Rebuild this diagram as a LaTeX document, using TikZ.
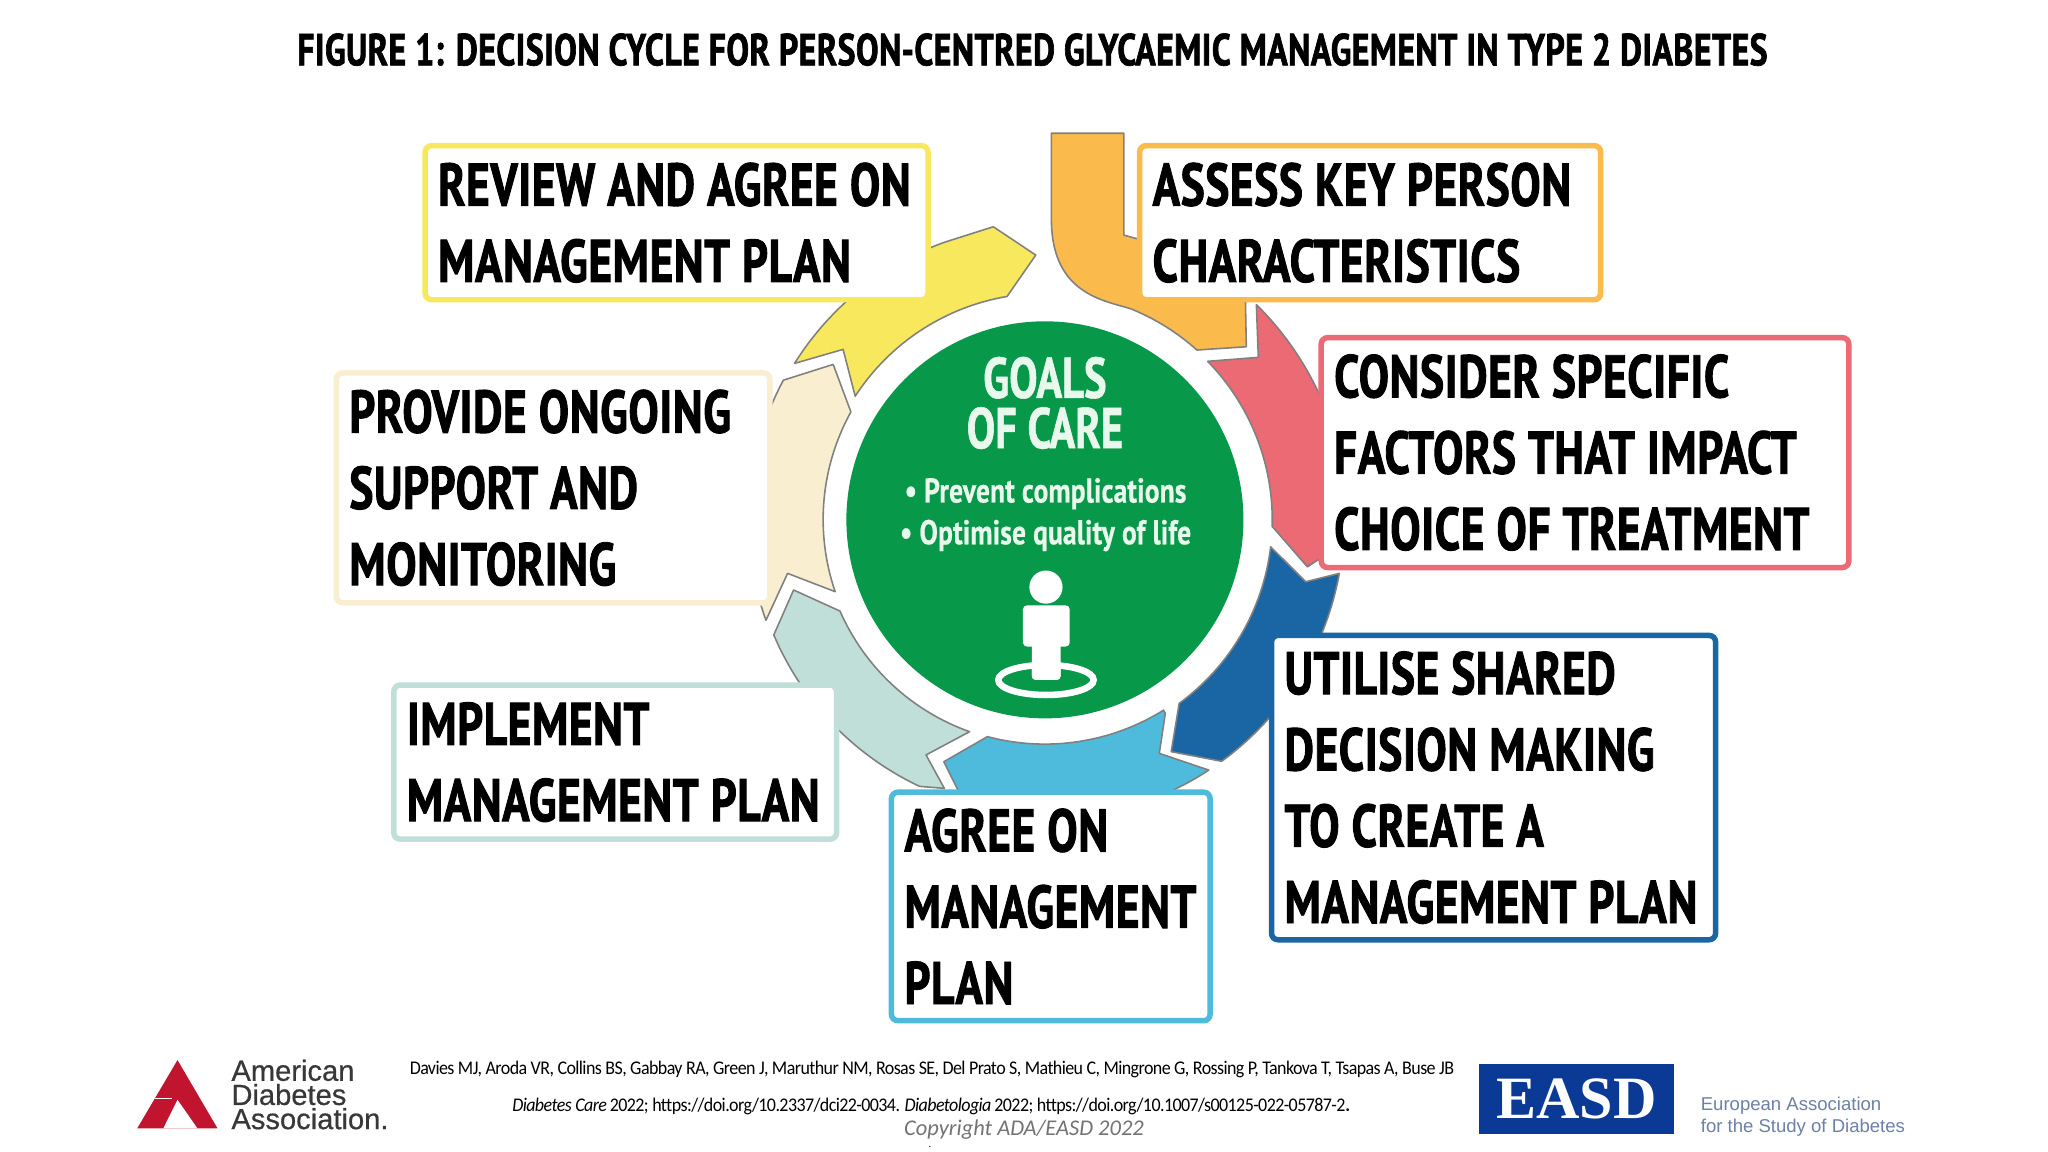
\documentclass[tikz,border=0pt]{standalone}
\usepackage{fontspec}
\setmainfont{Liberation Sans}
\newfontfamily\dinf{PT Sans}[FakeStretch=0.755,LetterSpace=1,FakeBold=1.5]
\newfontfamily\dinb{PT Sans}[FakeStretch=0.74,FakeBold=1.0]
\newfontfamily\dinc{PT Sans}[FakeStretch=0.8,LetterSpace=0.5,FakeBold=0.6]
\newfontfamily\carl{Carlito}[FakeStretch=0.93,LetterSpace=-3]
\newfontfamily\copyf{Carlito}
\newfontfamily\serb{Liberation Serif}
\newfontfamily\adaf{Liberation Sans}[FakeBold=0.5]
\definecolor{cyel}{HTML}{F8E85E}
\definecolor{cora}{HTML}{FBBA4C}
\definecolor{cred}{HTML}{EC6A74}
\definecolor{cblu}{HTML}{1A66A4}
\definecolor{ccya}{HTML}{4EBBDD}
\definecolor{cmin}{HTML}{C0DFD9}
\definecolor{ccre}{HTML}{F9EECF}
\definecolor{cgrn}{HTML}{08984A}
\definecolor{ctxt}{HTML}{E9F8EC}
\definecolor{clog}{HTML}{C0142F}
\definecolor{ceas}{HTML}{0B3A96}
\definecolor{ceat}{HTML}{6C80A8}
\tikzset{
  arrowband/.style={draw=black!50,line width=1.2pt,line join=round},
  cbox/.style={rectangle,rounded corners=5pt,line width=4.2pt,fill=white,anchor=north west,inner xsep=10pt,inner ysep=0pt,outer sep=0pt,align=flush left,font=\dinf\bfseries\fontsize{46}{58.4}\selectfont},
  bullet/.style={text=ctxt,inner sep=0pt,font=\dinc\bfseries\fontsize{26.3}{27}\selectfont},
  footer/.style={inner sep=0pt,text=black,font=\carl\fontsize{14.8}{16}\selectfont}
}
\begin{document}
\begin{tikzpicture}[x=1pt,y=1pt,yscale=-1]
\useasboundingbox (0,0) rectangle (1568,882);
\fill[white] (0,0) rectangle (1568,882);
\coordinate (c) at (800,398);
% title
\node[inner sep=0pt,font=\dinf\bfseries\fontsize{34.3}{35}\selectfont] (title) at (790.5,38) {FIGURE 1: DECISION CYCLE FOR PERSON-CENTRED GLYCAEMIC MANAGEMENT IN TYPE 2 DIABETES};
% cycle arrows
\draw[arrowband,fill=cyel] ([shift={(212:226)}]c) arc[start angle=212,end angle=250,radius=226] -- (760.5,173.6) -- (793,195.3) -- (771,227) arc[start angle=260.4,end angle=213,radius=173] -- (645.5,267.5) -- cycle;
\draw[arrowband,fill=cora] (805,102) -- (860.4,102) -- (860.4,180) -- (869.5,182.5) -- (953,200) -- (954.2,265.5) -- (916.4,268) arc[start angle=311.8,end angle=292,radius=174] .. controls (845,230) and (806,225) .. (805,170) -- cycle;
\draw[arrowband,fill=cred] ([shift={(314.5:231)}]c) arc[start angle=314.5,end angle=365,radius=231] -- (1010,428) -- (1001,434) -- (974,403) arc[start angle=361.6,end angle=315.7,radius=174] -- (963.4,273.6) -- cycle;
\draw[arrowband,fill=cblu] ([shift={(6.8:174)}]c) -- (999.7,445.4) -- (1025.4,439) arc[start angle=10.3,end angle=53.8,radius=229] -- (896.7,575.5) -- (902.8,538.5) arc[start angle=53.8,end angle=6.8,radius=174] -- cycle;
\draw[arrowband,fill=ccya] ([shift={(58.1:174.5)}]c) -- (887.6,576.8) -- (925.5,589.6) arc[start angle=56.8,end angle=105,radius=229] -- (734.7,607.5) -- (722.6,583.2) -- (756,564) arc[start angle=104.8,end angle=58.1,radius=172] -- cycle;
\draw[arrowband,fill=cmin] ([shift={(157:225.5)}]c) arc[start angle=157,end angle=115.2,radius=225.5] -- (723,603.6) -- (709,578) -- (742.3,560.2) arc[start angle=109.6,end angle=156.3,radius=171] -- (607.6,451.7) -- cycle;
\draw[arrowband,fill=ccre] ([shift={(208.1:227)}]c) arc[start angle=208.1,end angle=160.2,radius=227] -- (603,439) -- (639.4,453) arc[start angle=161.1,end angle=208.9,radius=170.5] -- (637.9,279) -- cycle;
% centre disc
\node[circle,fill=cgrn,minimum size=304pt,inner sep=0pt] (disc) at (c) {};
\node[text=ctxt,inner sep=0pt,align=center,font=\dinb\bfseries\fontsize{44}{38.5}\selectfont] (goals) at (800,308.5) {GOALS\\OF CARE};
\node[bullet] (b1) at (800.5,378) {\textbullet\ Prevent complications};
\node[bullet] (b2) at (800.5,410) {\textbullet\ Optimise quality of life};
% person
\fill[white] (800.8,449.5) circle[radius=12.7];
\fill[white,rounded corners=3pt] (783.2,463.5) rectangle (819,495);
\fill[white,rounded corners=3pt] (790,490) rectangle (812,520.6);
\draw[white,line width=5pt] (800.8,520.6) ellipse[x radius=36.5,y radius=11.5];
\fill[white,rounded corners=3pt] (790,505) rectangle (812,520.6);
% boxes
\node[cbox,draw=cyel,minimum width=385pt,minimum height=118pt,text width=365pt] (review) at (325.5,111.5) {REVIEW AND AGREE ON\\MANAGEMENT PLAN};
\node[cbox,draw=cora,minimum width=353pt,minimum height=118pt,text width=333pt] (assess) at (872.5,111.5) {ASSESS KEY PERSON\\CHARACTERISTICS};
\node[cbox,draw=cred,minimum width=404pt,minimum height=176pt,text width=384pt] (consider) at (1011.5,258.5) {CONSIDER SPECIFIC\\FACTORS THAT IMPACT\\CHOICE OF TREATMENT};
\node[cbox,draw=cblu,minimum width=340pt,minimum height=233pt,text width=320pt] (utilise) at (973.5,486.5) {UTILISE SHARED\\DECISION MAKING\\TO CREATE A\\MANAGEMENT PLAN};
\node[cbox,draw=ccya,minimum width=244pt,minimum height=175pt,text width=224pt] (agree) at (682.5,606.5) {AGREE ON\\MANAGEMENT\\PLAN};
\node[cbox,draw=cmin,minimum width=339pt,minimum height=118pt,text width=319pt] (implement) at (301.5,524.5) {IMPLEMENT\\MANAGEMENT PLAN};
\node[cbox,draw=ccre,minimum width=332pt,minimum height=176pt,text width=312pt] (provide) at (257.5,285.5) {PROVIDE ONGOING\\SUPPORT AND\\MONITORING};
% ADA logo
\fill[clog] (135.9,811.6) -- (166.6,864) -- (105,864) -- cycle;
\fill[white] (125,864) -- (135.9,842) -- (151.2,864) -- cycle;
\draw[white,line width=.8pt] (119,841) -- (132,841);
\node[inner sep=0pt,anchor=west,align=left,text=black!78,font=\adaf\fontsize{22.3}{18.5}\selectfont] (ada) at (177,838) {American\\Diabetes\\Association.};
% references
\node[footer] (ref1) at (713.5,819) {Davies MJ, Aroda VR, Collins BS, Gabbay RA, Green J, Maruthur NM, Rosas SE, Del Prato S, Mathieu C, Mingrone G, Rossing P, Tankova T, Tsapas A, Buse JB};
\node[footer] (ref2) at (713,847) {\textit{Diabetes Care} 2022; https://doi.org/10.2337/dci22-0034. \textit{Diabetologia} 2022; https://doi.org/10.1007/s00125-022-05787-2{\bfseries .}};
\node[inner sep=0pt,text=black!55,font=\copyf\itshape\fontsize{17.2}{18}\selectfont] (copy) at (784,865) {Copyright ADA/EASD 2022};
\node[inner sep=0pt,font=\copyf\fontsize{8}{8}\selectfont] (dot) at (712,878) {.};
% EASD logo
\node[rectangle,fill=ceas,minimum width=150pt,minimum height=53pt,inner sep=0pt,text=white,font=\serb\bfseries\fontsize{46}{46}\selectfont] (easd) at (1207,841.5) {EASD};
\node[inner sep=0pt,anchor=west,align=left,text=ceat,font=\fontsize{14.2}{17}\selectfont] (easdname) at (1302,855) {European Association\\for the Study of Diabetes};
\end{tikzpicture}
\end{document}
